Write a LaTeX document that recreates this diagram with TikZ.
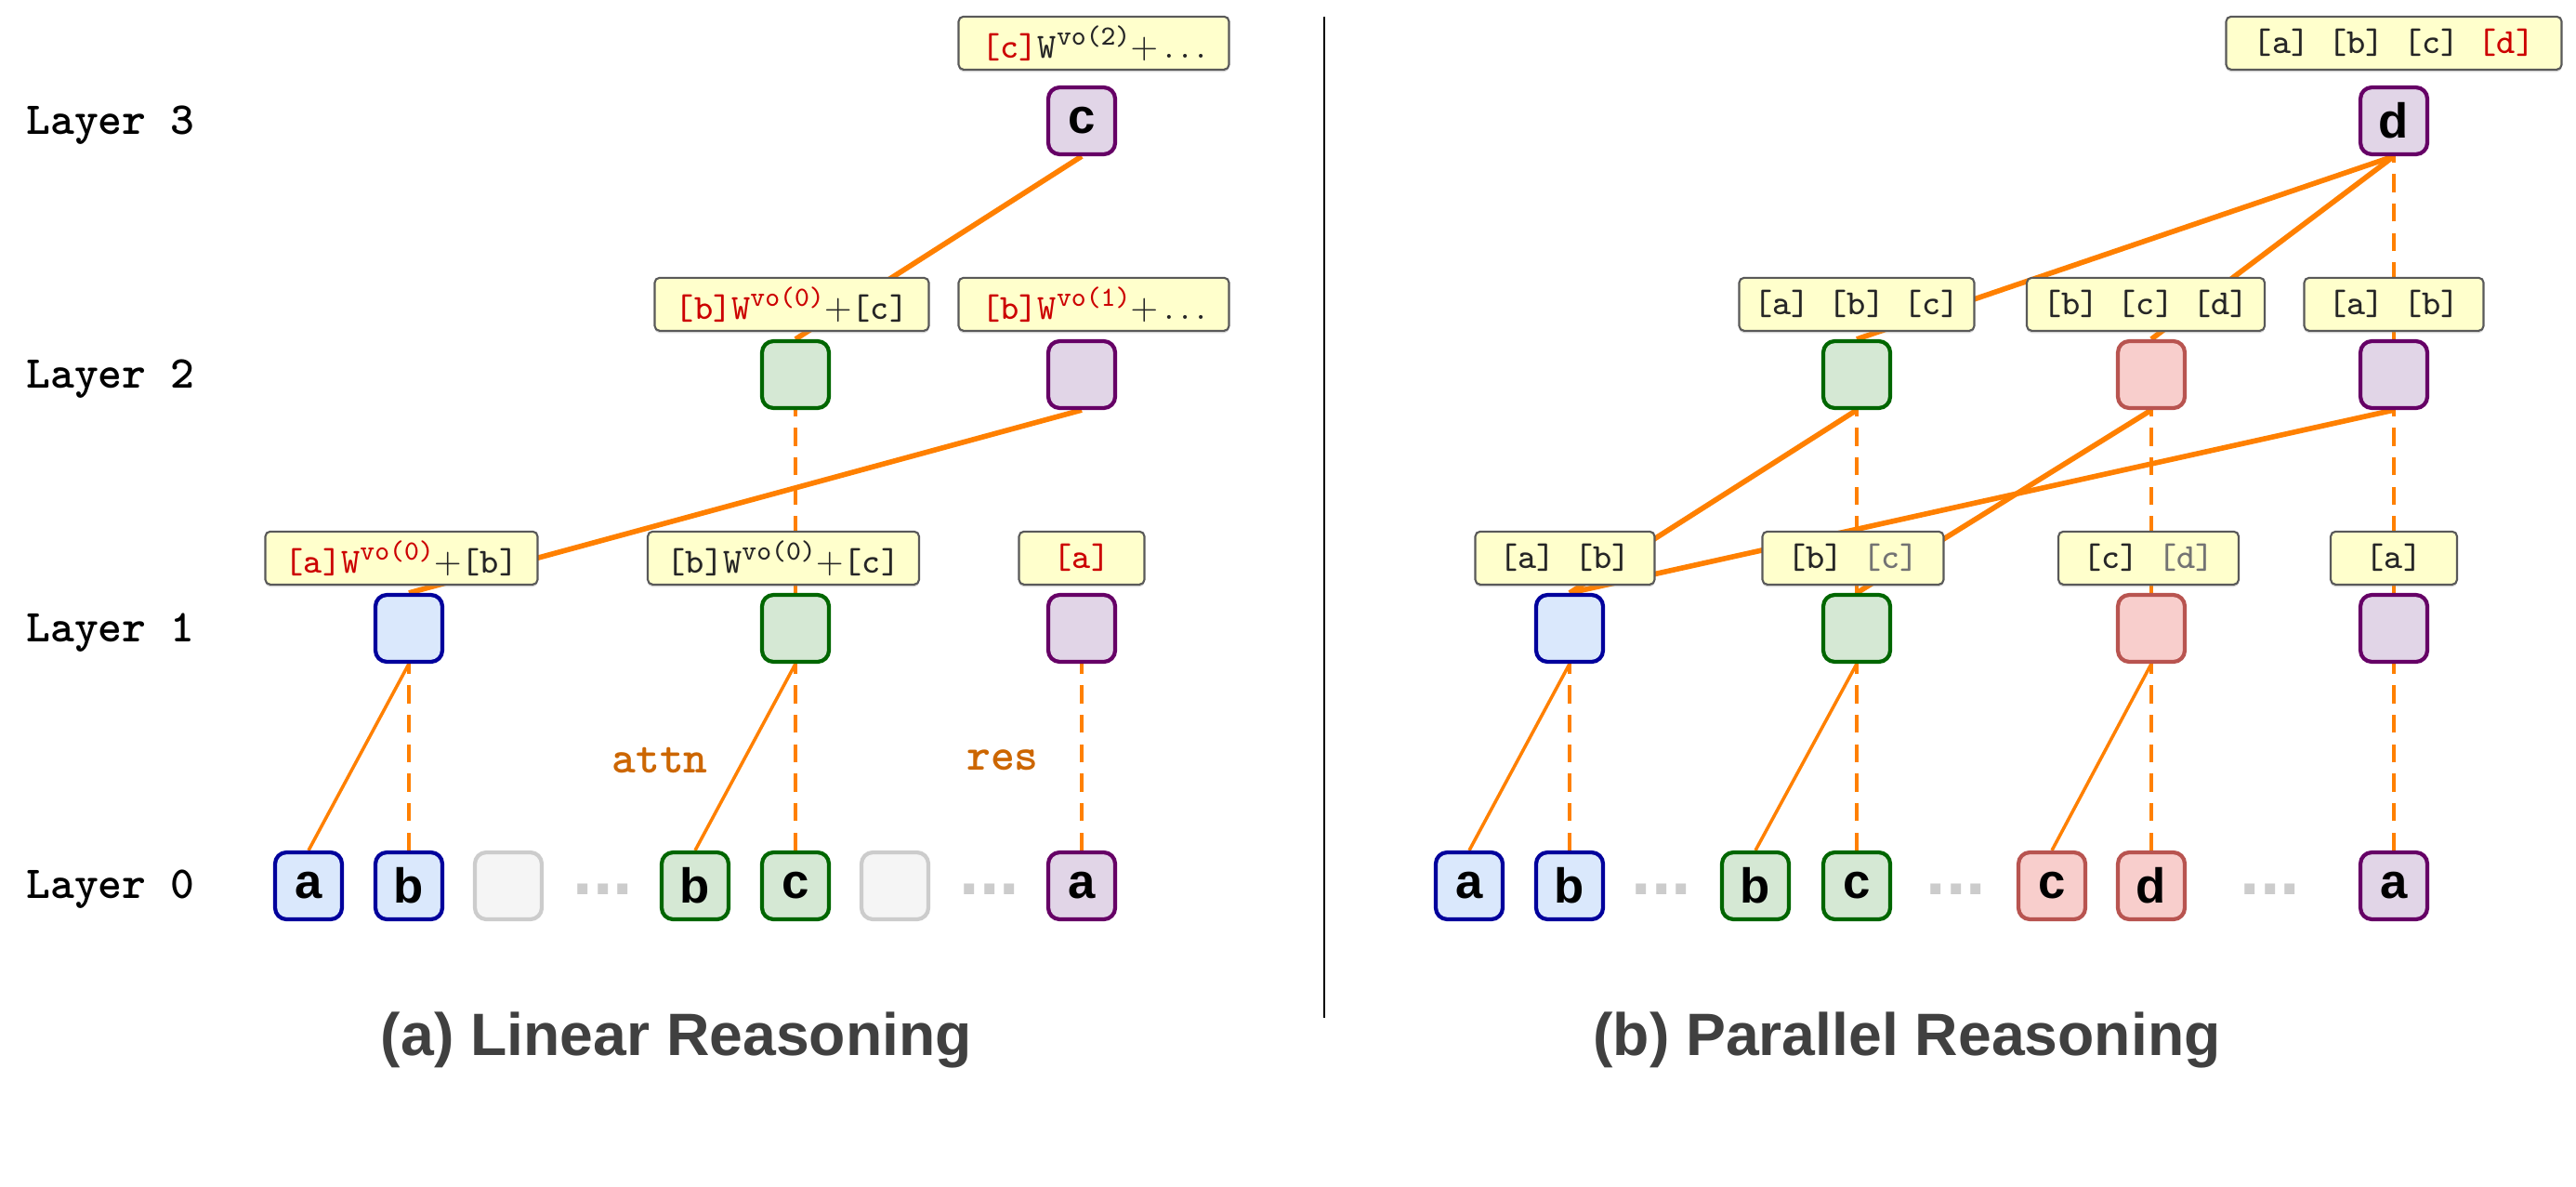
\documentclass[tikz,border=0pt]{standalone}
\usepackage{fontspec}
\newfontfamily\arialfont{Liberation Sans}
\newfontfamily\lblfont{lmmono8-regular.otf}
\usetikzlibrary{positioning,backgrounds,shadows}
\definecolor{orng}{HTML}{FF8000}
\definecolor{attncol}{HTML}{CC6600}
\definecolor{lblred}{HTML}{CC0000}
\definecolor{lblfill}{HTML}{FFFFCC}
\definecolor{blufill}{HTML}{DAE8FC}
\definecolor{bluline}{HTML}{00009C}
\definecolor{grnfill}{HTML}{D5E8D4}
\definecolor{grnline}{HTML}{006600}
\definecolor{redfill}{HTML}{F8CECC}
\definecolor{redline}{HTML}{B85450}
\definecolor{purfill}{HTML}{E1D5E7}
\definecolor{purline}{HTML}{660066}
\definecolor{gryfill}{HTML}{F5F5F5}
\definecolor{gryline}{HTML}{CCCCCC}
\newcommand{\rd}[1]{\textcolor{lblred}{#1}}
\newcommand{\lt}[1]{\textcolor{black!55}{#1}}
\newcommand{\vo}[1]{W\raisebox{0.85ex}{\fontsize{8.5}{9}\selectfont vo(#1)}}
\begin{document}
\begin{tikzpicture}[
    tok/.style={draw=#1line, fill=#1fill, line width=1.2pt, rounded corners=3.5pt,
        minimum size=0.72cm, inner sep=0pt, font=\arialfont\bfseries\fontsize{15}{18}\selectfont},
    lbl/.style={draw=black!65, fill=lblfill, line width=0.6pt, rounded corners=1.5pt,
        minimum height=0.57cm, minimum width=#1, inner sep=0pt, text=black!85,
        font=\lblfont\fontsize{10.8}{12}\selectfont,
        drop shadow={shadow xshift=0pt, shadow yshift=-0.7pt, opacity=0.35}},
    layerlbl/.style={anchor=west, font=\ttfamily\bfseries\fontsize{14}{16}\selectfont},
    tokdots/.style={anchor=base, text=black!20, font=\arialfont\bfseries\fontsize{22}{24}\selectfont},
    note/.style={text=attncol, font=\ttfamily\bfseries\fontsize{14}{16}\selectfont},
    capt/.style={anchor=base, text=black!75, font=\arialfont\bfseries\fontsize{18.3}{22}\selectfont},
    attn/.style={orng, line width=1pt},
    wide/.style={orng, line width=1.6pt},
    res/.style={orng, line width=1.1pt, dash pattern=on 5.5pt off 3.5pt}
]
\useasboundingbox (0,0) rectangle (27.72,-12.76);
\foreach \i/\y in {3/1.35,2/4.08,1/6.81,0/9.57}
    \node[layerlbl] (layer\i) at (0.16,-\y) {Layer \i};

\node[tok=blu] (la) at (3.32,-9.53) {a};
\node[tok=blu] (lb) at (4.40,-9.53) {b};
\node[tok=gry] (lg) at (5.47,-9.53) {};
\node[tokdots] (ld1) at (6.49,-9.62) {...};
\node[tok=grn] (lbb) at (7.48,-9.53) {b};
\node[tok=grn] (lc) at (8.56,-9.53) {c};
\node[tok=gry] (lgg) at (9.63,-9.53) {};
\node[tokdots] (ld2) at (10.65,-9.62) {...};
\node[tok=pur] (laa) at (11.64,-9.53) {a};

\node[tok=blu] (lh1b) at (4.40,-6.76) {};
\node[tok=grn] (lh1g) at (8.56,-6.76) {};
\node[tok=pur] (lh1p) at (11.64,-6.76) {};
\node[tok=grn] (lh2g) at (8.56,-4.03) {};
\node[tok=pur] (lh2p) at (11.64,-4.03) {};
\node[tok=pur] (lh3p) at (11.64,-1.30) {c};

\node[lbl=2.93cm, above=0.08cm of lh1b, xshift=-0.08cm] (lt1b) {\rd{[a]\vo{0}}$+$[b]};
\node[lbl=2.92cm, above=0.08cm of lh1g, xshift=-0.13cm] (lt1g) {[b]\vo{0}$+$[c]};
\node[lbl=1.35cm, above=0.08cm of lh1p] (lt1p) {\rd{[a]}};
\node[lbl=2.95cm, above=0.08cm of lh2g, xshift=-0.04cm] (lt2g) {\rd{[b]\vo{0}}$+$[c]};
\node[lbl=2.91cm, above=0.08cm of lh2p, xshift=0.13cm] (lt2p) {\rd{[b]\vo{1}}$+\dots$};
\node[lbl=2.91cm, above=0.16cm of lh3p, xshift=0.13cm] (lt3p) {\rd{[c]}\vo{2}$+\dots$};

\node[note] (attnlbl) at (7.10,-8.18) {attn};
\node[note] (reslbl) at (10.79,-8.18) {res};

\node[tok=blu] (ra) at (15.81,-9.53) {a};
\node[tok=blu] (rb) at (16.89,-9.53) {b};
\node[tokdots] (rd1) at (17.88,-9.62) {...};
\node[tok=grn] (rbb) at (18.89,-9.53) {b};
\node[tok=grn] (rc) at (19.98,-9.53) {c};
\node[tokdots] (rd2) at (21.05,-9.62) {...};
\node[tok=red] (rcc) at (22.08,-9.53) {c};
\node[tok=red] (rdd) at (23.15,-9.53) {d};
\node[tokdots] (rd3) at (24.43,-9.62) {...};
\node[tok=pur] (raa) at (25.76,-9.53) {a};

\node[tok=blu] (rh1b) at (16.89,-6.76) {};
\node[tok=grn] (rh1g) at (19.98,-6.76) {};
\node[tok=red] (rh1r) at (23.15,-6.76) {};
\node[tok=pur] (rh1p) at (25.76,-6.76) {};
\node[tok=grn] (rh2g) at (19.98,-4.03) {};
\node[tok=red] (rh2r) at (23.15,-4.03) {};
\node[tok=pur] (rh2p) at (25.76,-4.03) {};
\node[tok=pur] (rh3p) at (25.76,-1.30) {d};

\node[lbl=1.93cm, above=0.08cm of rh1b, xshift=-0.05cm] (rt1b) {[a] [b]};
\node[lbl=1.95cm, above=0.08cm of rh1g, xshift=-0.04cm] (rt1g) {[b] \lt{[c]}};
\node[lbl=1.94cm, above=0.08cm of rh1r, xshift=-0.03cm] (rt1r) {[c] \lt{[d]}};
\node[lbl=1.36cm, above=0.08cm of rh1p] (rt1p) {[a]};
\node[lbl=2.53cm, above=0.08cm of rh2g] (rt2g) {[a] [b] [c]};
\node[lbl=2.56cm, above=0.08cm of rh2r, xshift=-0.06cm] (rt2r) {[b] [c] [d]};
\node[lbl=1.93cm, above=0.08cm of rh2p] (rt2p) {[a] [b]};
\node[lbl=3.61cm, above=0.16cm of rh3p] (rt3p) {[a] [b] [c] \rd{[d]}};

\draw[line width=0.6pt] (14.25,-0.18) -- (14.25,-10.95);
\node[capt] (capa) at (7.28,-11.35) {(a) Linear Reasoning};
\node[capt] (capb) at (20.52,-11.35) {(b) Parallel Reasoning};

\begin{scope}[on background layer]
\foreach \s/\t in {la/lh1b, lbb/lh1g, ra/rh1b, rbb/rh1g, rcc/rh1r}
    \draw[attn] (\s.north) -- (\t.south);
\foreach \s/\t in {lb/lh1b, lc/lh1g, laa/lh1p, lh1g/lh2g, rb/rh1b, rc/rh1g, rdd/rh1r, raa/rh1p,
    rh1g/rh2g, rh1r/rh2r, rh1p/rh2p, rh2p/rh3p}
    \draw[res] (\s.north) -- (\t.south);
\foreach \s/\t in {lh1b/lh2p, lh2g/lh3p, rh1b/rh2g, rh1b/rh2p, rh1g/rh2r, rh2g/rh3p, rh2r/rh3p}
    \draw[wide] (\s.north) -- (\t.south);
\end{scope}
\end{tikzpicture}
\end{document}
